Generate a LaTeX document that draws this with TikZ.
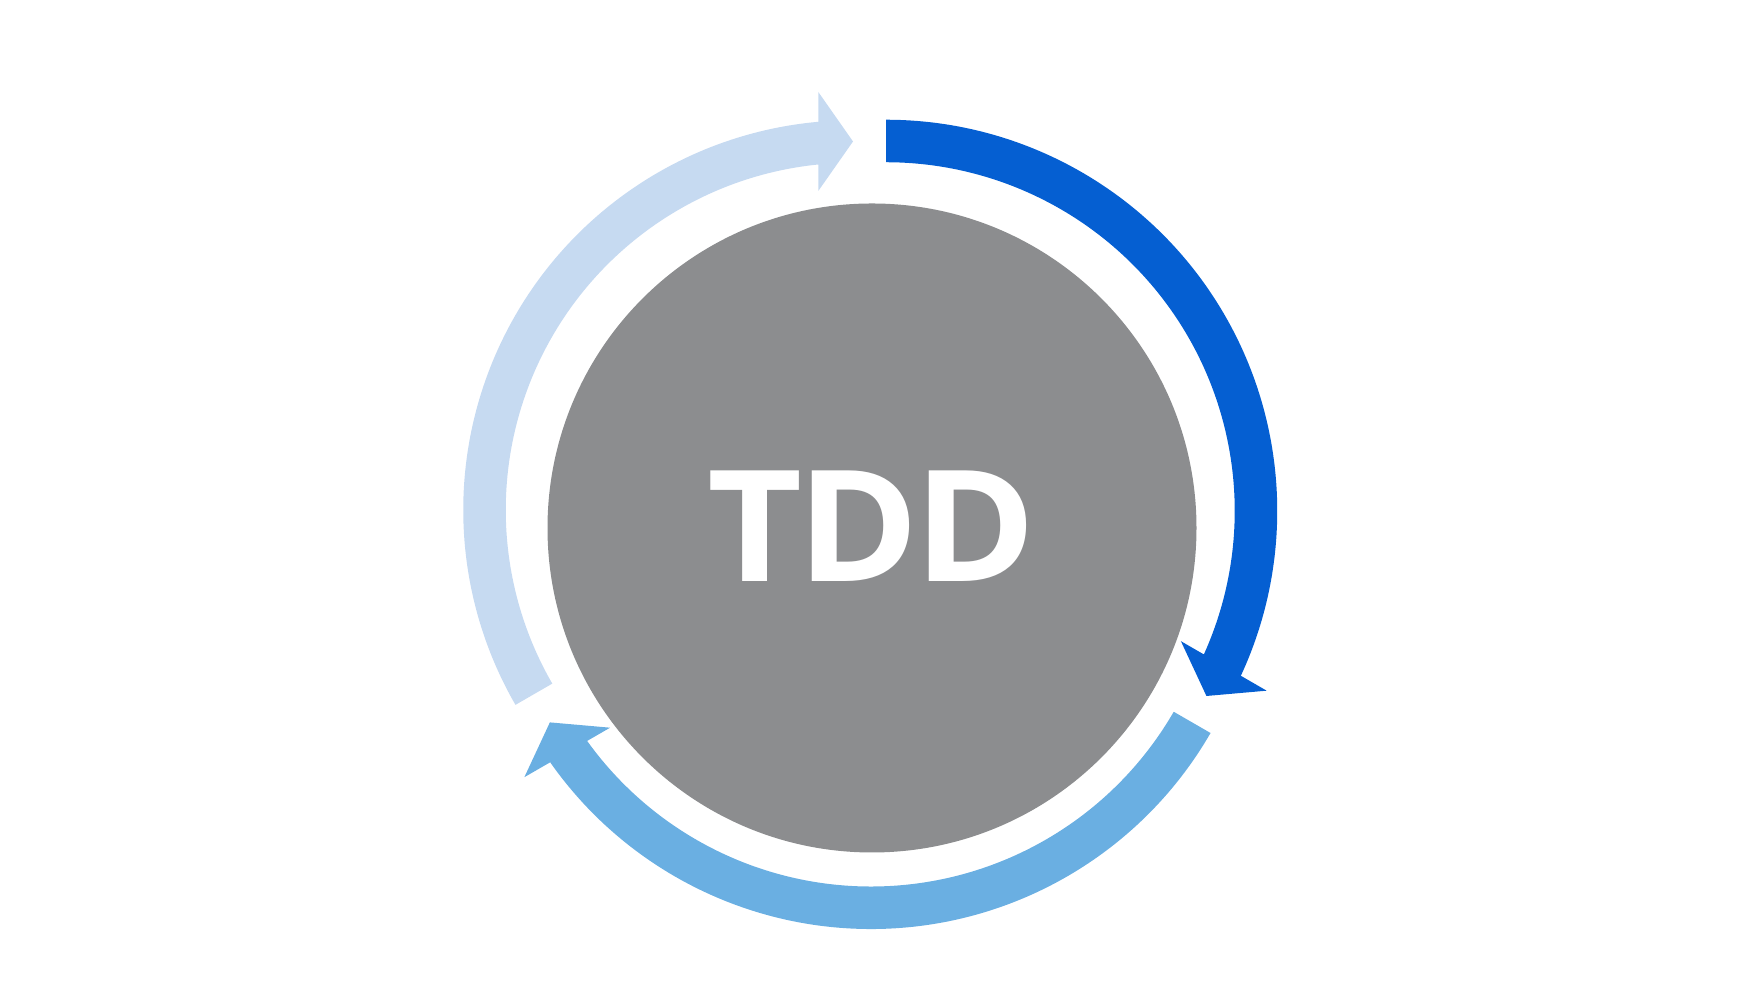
\documentclass[tikz,border=0pt]{standalone}
\usepackage{fontspec}
\setmainfont{Open Sans}
\newfontfamily\hubfont[FakeStretch=1.06,LetterSpace=-3.2]{Open Sans}
\usetikzlibrary{calc}
\definecolor{hubgrey}{RGB}{140,141,143}
\definecolor{paleblue}{RGB}{198,218,241}
\definecolor{deepblue}{RGB}{5,95,210}
\definecolor{midblue}{RGB}{106,175,226}
\tikzset{
    hub/.style={circle,fill=hubgrey,inner sep=0pt,minimum size=324.5pt,text depth=2.2pt,text=white,font=\hubfont\fontsize{77.5}{77.5}\selectfont\bfseries},
}
% centre, mid radius, tail angle, tip angle, colour
\newcommand{\cyclearrow}[5]{%
    \pgfmathsetmacro{\ro}{#2+21.25}
    \pgfmathsetmacro{\ri}{#2-21.25}
    \pgfmathsetmacro{\eo}{#4+asin(34.7/\ro)}
    \pgfmathsetmacro{\ei}{#4+asin(34.7/\ri)}
    \fill[#5] ($(#1)+({#3}:\ro)$) arc[start angle=#3,end angle=\eo,radius=\ro]
        -- ($(#1)+({#4}:{#2+49.5})+({#4+90}:34.7)$) -- ($(#1)+({#4}:#2)$)
        -- ($(#1)+({#4}:{#2-49.5})+({#4+90}:34.7)$) -- ($(#1)+(\ei:\ri)$)
        arc[start angle=\ei,end angle=#3,radius=\ri] -- cycle;
}
\begin{document}
\begin{tikzpicture}[x=0.5pt,y=0.5pt]
    \useasboundingbox (0,0) rectangle (1758,1004);
    \coordinate (palec) at (853,494);
    \coordinate (deepc) at (886,493);
    \coordinate (midc) at (871,467);
    \cyclearrow{palec}{368.5}{210}{90}{paleblue}
    \cyclearrow{deepc}{370}{90}{-30}{deepblue}
    \cyclearrow{midc}{370.8}{-30}{-150}{midblue}
    \node[hub] (tdd) at (872,476) {TDD};
\end{tikzpicture}
\end{document}
